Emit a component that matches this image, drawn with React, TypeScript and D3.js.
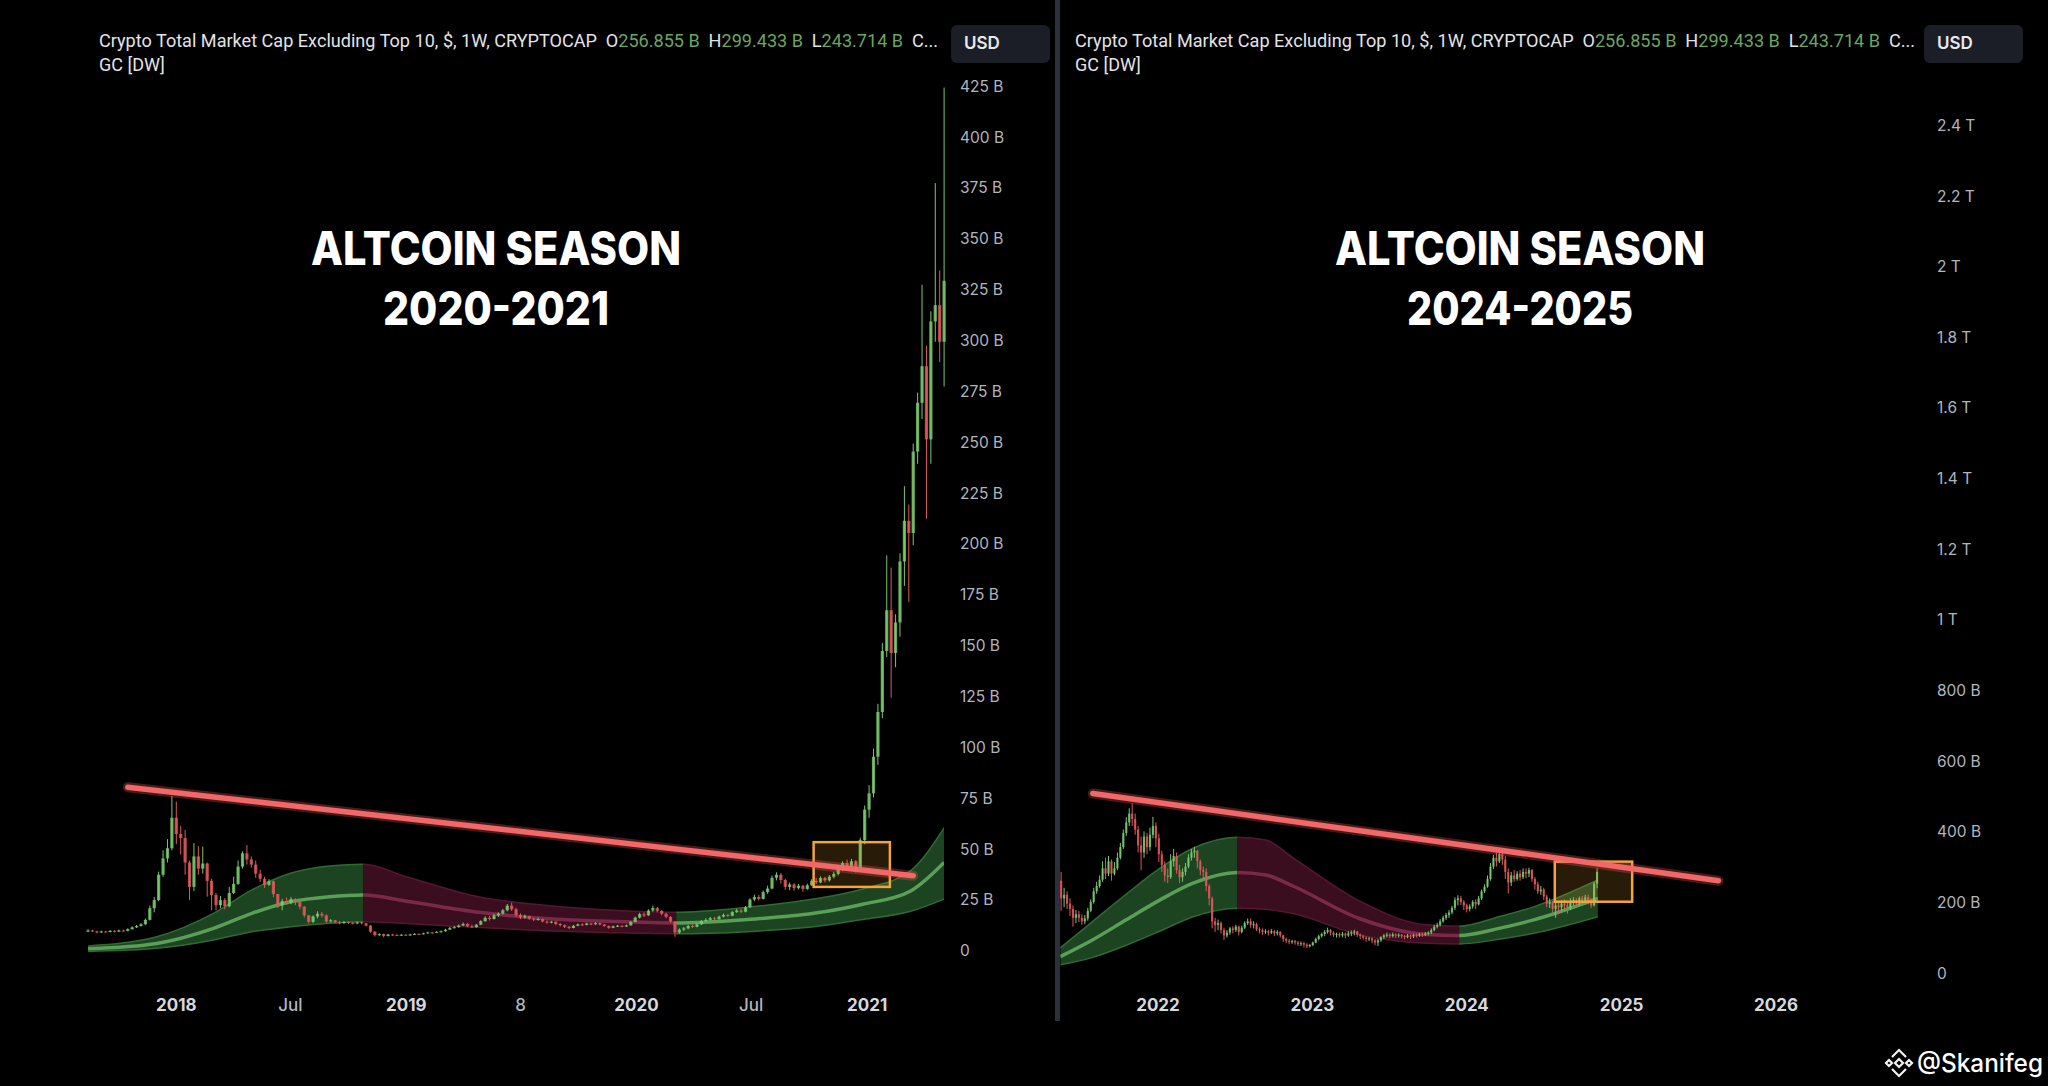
import { useEffect, useRef } from 'react';
import * as d3 from 'd3';

type HLC = [number, number, number]; // high, low, close (open = previous close)
type Trend = 'up' | 'down';

const W = 2048;
const H = 1086;

// ---- left panel: weekly candles, Aug 2017 .. May 2021 (billions) ----
const leftStart = '2017-08-14';
const leftFirstOpen = 10.0;
const leftCandles: HLC[] = [
  [11.2, 9.8, 10.6], [11.0, 9.9, 10.2], [10.4, 9.2, 9.6], [10.5, 9.4, 10.1], [10.4, 9.5, 9.8],
  [10.8, 9.6, 10.4], [10.7, 9.7, 10.0], [11.0, 9.9, 10.6], [10.9, 10.0, 10.3], [11.6, 10.2, 11.2],
  [12.6, 11.0, 12.1], [13.3, 11.8, 12.8], [14.2, 12.5, 13.6], [16.5, 13.4, 15.8], [22.8, 15.5, 21.5],
  [27.0, 19.5, 25.5], [39.5, 25.0, 38.0], [50.0, 37.0, 46.0], [55.5, 44.0, 51.0], [76.7, 50.0, 66.0],
  [74.0, 53.0, 58.0], [62.0, 48.0, 56.0], [60.0, 38.0, 44.0], [45.0, 25.5, 32.0], [53.5, 30.0, 47.0],
  [52.0, 38.0, 41.0], [51.8, 38.5, 43.5], [44.0, 27.2, 35.0], [36.0, 20.6, 28.0], [29.0, 20.5, 23.0],
  [27.5, 21.5, 25.5], [26.5, 21.0, 22.5], [32.0, 22.0, 29.0], [37.0, 28.5, 33.5], [45.0, 33.0, 42.0],
  [49.5, 41.0, 48.5], [52.6, 43.0, 45.5], [47.0, 41.5, 43.0], [45.0, 36.5, 38.5], [40.5, 34.5, 36.0],
  [37.0, 31.5, 33.0], [35.8, 32.5, 34.8], [35.0, 27.0, 28.5], [28.5, 21.5, 23.0], [26.0, 20.5, 25.0],
  [26.8, 23.2, 24.2], [27.0, 23.5, 26.0], [26.5, 23.0, 24.5], [25.0, 21.0, 22.3], [22.5, 17.0, 18.0],
  [18.2, 14.0, 14.8], [18.0, 14.2, 17.5], [20.0, 16.5, 18.8], [19.6, 17.0, 18.0], [18.5, 14.2, 15.0],
  [16.2, 14.5, 15.6], [15.8, 14.0, 14.6], [15.2, 13.6, 14.2], [15.2, 13.9, 14.8], [15.0, 13.8, 14.4],
  [14.8, 13.5, 14.0], [15.0, 13.7, 14.6], [14.9, 13.6, 14.1], [14.3, 12.6, 13.0], [13.2, 9.4, 10.0],
  [10.2, 7.6, 8.3], [9.2, 7.8, 8.8], [9.0, 7.3, 7.9], [9.0, 7.6, 8.6], [8.9, 8.0, 8.4],
  [8.7, 7.8, 8.1], [8.8, 7.9, 8.5], [8.7, 8.0, 8.3], [9.0, 8.1, 8.6], [9.2, 8.4, 8.9],
  [9.1, 8.4, 8.7], [9.5, 8.6, 9.2], [10.0, 9.0, 9.6], [9.9, 9.1, 9.4], [10.3, 9.3, 9.9],
  [10.6, 9.6, 10.2], [11.4, 10.0, 11.0], [12.4, 10.8, 11.8], [12.8, 11.5, 12.2], [13.5, 12.0, 13.0],
  [14.5, 12.8, 13.8], [14.2, 12.2, 12.6], [13.4, 11.8, 12.2], [13.8, 12.0, 13.4], [15.6, 13.2, 15.2],
  [17.5, 14.8, 16.8], [17.8, 15.5, 16.2], [18.8, 16.0, 18.0], [19.5, 17.2, 18.9], [21.2, 18.4, 20.5],
  [23.6, 20.0, 22.8], [24.2, 20.2, 21.0], [21.8, 17.4, 18.2], [19.0, 16.2, 17.0], [18.4, 16.4, 17.6],
  [17.8, 15.8, 16.4], [16.8, 15.2, 15.9], [16.9, 15.4, 16.2], [16.4, 14.6, 15.0], [15.4, 13.9, 14.6],
  [15.3, 14.1, 14.9], [15.0, 13.2, 13.8], [14.2, 12.6, 13.2], [13.5, 11.8, 12.4], [12.8, 11.2, 11.8],
  [13.3, 11.6, 12.9], [14.0, 12.6, 13.6], [14.1, 12.9, 13.3], [14.4, 13.1, 14.0], [14.3, 13.2, 13.6],
  [14.6, 13.4, 14.2], [14.4, 13.1, 13.5], [13.8, 12.4, 12.8], [13.0, 11.4, 11.9], [13.0, 11.7, 12.6],
  [13.3, 12.3, 12.9], [13.2, 12.1, 12.5], [13.5, 12.3, 13.1], [15.2, 12.9, 14.8], [17.4, 14.6, 16.9],
  [19.3, 16.5, 18.6], [19.5, 17.2, 18.0], [21.0, 17.8, 20.4], [22.8, 19.8, 21.6], [22.1, 19.5, 20.2],
  [20.6, 18.1, 18.8], [19.2, 16.6, 17.3], [17.6, 14.4, 15.0], [15.2, 7.5, 9.6], [11.6, 9.0, 11.0],
  [12.3, 10.4, 11.6], [13.3, 11.2, 12.8], [13.5, 11.8, 12.4], [14.2, 12.1, 13.6], [15.7, 13.3, 15.2],
  [16.6, 14.9, 15.8], [17.2, 15.4, 16.6], [17.3, 15.6, 16.1], [17.9, 15.9, 17.4], [18.9, 17.0, 18.2],
  [18.8, 17.2, 17.8], [20.1, 17.6, 19.6], [21.2, 19.2, 20.4], [21.0, 19.1, 19.8], [22.6, 19.5, 22.0],
  [26.4, 21.7, 25.8], [28.2, 25.0, 27.0], [28.0, 25.3, 26.1], [30.2, 25.8, 29.4], [32.6, 28.6, 31.2],
  [37.6, 30.8, 36.5], [39.2, 35.2, 38.0], [38.8, 33.6, 35.4], [36.0, 30.6, 32.0], [34.2, 30.4, 33.2],
  [33.8, 30.2, 31.4], [33.4, 30.8, 32.6], [33.0, 29.6, 31.0], [33.6, 30.6, 32.8], [35.8, 32.4, 35.0],
  [36.4, 33.4, 34.2], [37.2, 33.8, 36.4], [37.0, 34.2, 35.2], [37.8, 34.6, 37.0], [39.4, 36.2, 38.4],
  [41.8, 37.6, 40.6], [44.6, 39.8, 43.8], [45.4, 41.0, 42.2], [45.8, 40.6, 44.6], [45.2, 39.0, 41.2],
  [56.2, 40.6, 55.0], [72.0, 53.0, 70.0], [82.0, 66.0, 78.0], [100.0, 76.0, 96.0], [122.0, 92.0, 118.0],
  [152.0, 115.0, 148.0], [195.0, 145.0, 168.0], [189.0, 125.0, 147.0], [166.0, 140.0, 162.0], [196.0, 155.0, 192.0],
  [229.0, 180.0, 212.0], [220.0, 172.0, 206.0], [250.0, 200.0, 246.0], [275.0, 240.0, 270.0], [328.0, 262.0, 288.0],
  [298.0, 213.0, 252.0], [315.0, 240.0, 310.0], [378.0, 300.0, 318.0], [335.0, 290.0, 300.0], [425.0, 278.0, 330.0],
];

// ---- right panel: weekly candles, May 2021 .. Nov 2024 (billions) ----
const rightStart = '2021-05-17';
const rightFirstOpen = 265;
const rightCandles: HLC[] = [
  [290, 180, 215], [245, 190, 225], [235, 185, 200], [215, 165, 185], [195, 135, 160],
  [182, 145, 170], [180, 148, 160], [170, 140, 150], [168, 142, 158], [188, 152, 180],
  [212, 176, 205], [245, 200, 235], [262, 228, 250], [280, 245, 268], [320, 262, 300],
  [330, 270, 285], [335, 278, 320], [325, 265, 285], [318, 280, 300], [345, 295, 330],
  [372, 325, 360], [410, 355, 400], [445, 392, 430], [470, 420, 455], [484, 420, 440],
  [455, 395, 410], [420, 345, 365], [390, 295, 345], [405, 330, 390], [400, 340, 360],
  [415, 350, 395], [446, 385, 420], [430, 360, 385], [398, 318, 340], [350, 290, 310],
  [320, 262, 280], [300, 258, 275], [340, 270, 320], [355, 305, 335], [345, 285, 295],
  [310, 258, 275], [300, 262, 290], [315, 280, 305], [340, 300, 330], [355, 322, 345],
  [361, 330, 350], [352, 300, 320], [325, 280, 295], [305, 265, 290], [300, 235, 250],
  [255, 195, 215], [220, 130, 150], [160, 120, 140], [155, 125, 145], [150, 115, 125],
  [132, 97, 110], [125, 104, 118], [134, 112, 130], [136, 116, 125], [140, 120, 135],
  [138, 110, 120], [138, 116, 132], [150, 128, 145], [158, 140, 150], [158, 132, 140],
  [150, 130, 142], [146, 122, 128], [133, 116, 125], [130, 112, 120], [128, 114, 122],
  [126, 110, 118], [128, 114, 122], [125, 108, 116], [125, 110, 120], [122, 104, 110],
  [112, 92, 100], [104, 88, 95], [100, 85, 92], [98, 86, 94], [97, 84, 90],
  [94, 80, 86], [93, 80, 88], [92, 76, 84], [88, 74, 80], [86, 76, 83],
  [93, 80, 90], [104, 88, 100], [112, 96, 108], [118, 104, 114], [125, 108, 120],
  [132, 115, 125], [128, 110, 118], [122, 106, 112], [118, 104, 114], [118, 104, 110],
  [120, 105, 115], [118, 102, 110], [122, 106, 116], [124, 108, 118], [126, 110, 121],
  [123, 106, 112], [116, 100, 108], [112, 98, 104], [108, 92, 100], [106, 94, 102],
  [104, 88, 96], [100, 82, 90], [100, 80, 96], [108, 92, 105], [114, 100, 110],
  [118, 104, 112], [116, 102, 108], [118, 104, 113], [116, 103, 110], [116, 104, 112],
  [114, 102, 108], [112, 99, 106], [114, 102, 110], [113, 100, 107], [115, 103, 111],
  [115, 104, 109], [117, 106, 113], [118, 106, 112], [120, 108, 116], [122, 110, 118],
  [130, 114, 125], [140, 122, 135], [146, 130, 140], [156, 136, 150], [166, 146, 160],
  [174, 154, 168], [182, 160, 175], [194, 170, 188], [218, 182, 210], [224, 195, 215],
  [222, 196, 205], [210, 182, 195], [200, 175, 185], [198, 178, 192], [210, 186, 205],
  [212, 185, 198], [222, 195, 215], [240, 210, 235], [255, 230, 248], [280, 245, 270],
  [315, 265, 305], [338, 298, 330], [345, 305, 320], [352, 315, 340], [348, 310, 325],
  [335, 270, 290], [300, 229, 260], [290, 250, 280], [295, 262, 270], [292, 265, 285],
  [295, 265, 275], [300, 270, 290], [300, 272, 285], [302, 275, 295], [298, 262, 270],
  [275, 240, 255], [262, 228, 235], [250, 225, 240], [245, 210, 220], [225, 190, 200],
  [215, 188, 205], [208, 175, 185], [210, 160, 195], [205, 170, 190], [210, 180, 200],
  [212, 185, 195], [202, 172, 188], [215, 182, 205], [218, 195, 210], [215, 192, 200],
  [220, 195, 215], [222, 200, 208], [225, 202, 218], [225, 198, 205], [215, 188, 195],
  [262, 192, 256.855], [299.433, 243.714, 290],
];

// ---- gaussian channel samples ----
const leftChannelDates = [
  '2017-08-14', '2017-12-01', '2018-03-01', '2018-05-01', '2018-07-01', '2018-09-01', '2018-10-25',
  '2019-01-01', '2019-04-27', '2019-08-08', '2019-11-25', '2020-03-04', '2020-06-25', '2020-10-08',
  '2020-12-25', '2021-03-11', '2021-05-03',
];
const leftUpper = [3, 7.5, 19, 30.5, 38.7, 42.3, 43.1, 37, 27, 23, 20.5, 19.5, 22, 26, 31, 40, 61];
const leftMid = [1.6, 4.2, 11.6, 19, 24.7, 27.2, 28, 25, 19.5, 16.5, 15, 14.3, 16, 19, 23.5, 30, 44];
const leftLower = [0.3, 1.8, 5.9, 10, 12.4, 14.1, 14.9, 14, 12, 10.5, 9.5, 9, 10, 12.4, 16, 20, 26];
const leftSegments: [string, string, Trend][] = [
  ['2017-08-14', '2018-10-25', 'up'],
  ['2018-10-25', '2020-03-04', 'down'],
  ['2020-03-04', '2021-05-03', 'up'],
];

const rightChannelDates = [
  '2021-05-15', '2021-07-31', '2021-10-19', '2022-01-05', '2022-03-25', '2022-07-08', '2022-09-13',
  '2022-11-16', '2023-04-22', '2023-09-27', '2023-12-14', '2024-03-17', '2024-06-07', '2024-11-06',
];
const rightUpper = [75, 150, 228, 300, 357, 388, 380, 330, 208, 140, 136, 163, 191, 267];
const rightMid = [50, 98, 155, 210, 258, 288, 281, 250, 158, 113, 110, 130, 154, 215];
const rightLower = [27, 48, 83, 122, 163, 187, 184, 172, 112, 88, 86, 99, 116, 163];
const rightSegments: [string, string, Trend][] = [
  ['2021-05-15', '2022-07-08', 'up'],
  ['2022-07-08', '2023-12-14', 'down'],
  ['2023-12-14', '2024-11-06', 'up'],
];

// ---- drawings ----
const leftTrendDates = ['2017-10-16', '2021-03-15'];
const leftTrendValues = [81, 37.5];
const leftBoxDates = ['2020-10-08', '2021-02-06'];
const leftBoxValues = [32, 54];

const rightTrendDates = ['2021-07-31', '2025-08-18'];
const rightTrendValues = [512, 265];
const rightBoxDates = ['2024-07-27', '2025-01-26'];
const rightBoxValues = [205.5, 319];

// ---- axes ----
const leftYTicks = [0, 25, 50, 75, 100, 125, 150, 175, 200, 225, 250, 275, 300, 325, 350, 375, 400, 425];
const rightYTicks = [0, 200, 400, 600, 800, 1000, 1200, 1400, 1600, 1800, 2000, 2200, 2400];
const leftXTicks: [string, string, boolean][] = [
  ['2018-01-01', '2018', true], ['2018-07-01', 'Jul', false], ['2019-01-01', '2019', true],
  ['2019-07-01', '8', false], ['2020-01-01', '2020', true], ['2020-07-01', 'Jul', false],
  ['2021-01-01', '2021', true],
];
const rightXTicks: [string, string, boolean][] = [
  ['2022-01-01', '2022', true], ['2023-01-01', '2023', true], ['2024-01-01', '2024', true],
  ['2025-01-01', '2025', true], ['2026-01-01', '2026', true],
];

const headerName = 'Crypto Total Market Cap Excluding Top 10, $, 1W, CRYPTOCAP';
const headerOHLC: [string, string][] = [['O', '256.855 B'], ['H', '299.433 B'], ['L', '243.714 B']];
const headerStudy = 'GC [DW]';
const leftTitle = ['ALTCOIN SEASON', '2020-2021'];
const rightTitle = ['ALTCOIN SEASON', '2024-2025'];
const watermark = '@Skanifeg';

const parse = d3.timeParse('%Y-%m-%d');
const UP = '#78c96d';
const DOWN = '#e0585c';
const SANS = 'Inter, "Noto Sans", sans-serif';

interface PanelOpts {
  id: string;
  x: d3.ScaleTime<number, number>;
  y: d3.ScaleLinear<number, number>;
  start: string;
  firstOpen: number;
  candles: HLC[];
  bodyW: number;
  chDates: string[];
  upper: number[];
  mid: number[];
  lower: number[];
  segments: [string, string, Trend][];
  trendDates: string[];
  trendValues: number[];
  boxDates: string[];
  boxValues: number[];
  yTicks: number[];
  yFmt: (v: number) => string;
  yLabelX: number;
  xTicks: [string, string, boolean][];
  headerX: number;
  headerLen: number;
  usdX: number;
  title: string[];
  titleX: number;
}

function drawPanel(svg: d3.Selection<SVGSVGElement, unknown, null, undefined>, p: PanelOpts) {
  const { x, y } = p;
  const g = svg.append('g');

  // Gaussian channel, coloured by trend segment
  const pts = p.chDates.map((d, i) => ({ d: parse(d)!, u: p.upper[i], m: p.mid[i], l: p.lower[i] }));
  const area = d3.area<typeof pts[0]>().x((d) => x(d.d)).y0((d) => y(d.l)).y1((d) => y(d.u)).curve(d3.curveMonotoneX);
  const line = (key: 'u' | 'm' | 'l') =>
    d3.line<typeof pts[0]>().x((d) => x(d.d)).y((d) => y(d[key])).curve(d3.curveMonotoneX)(pts) as string;

  p.segments.forEach(([s, e, trend], k) => {
    const cid = `${p.id}-seg${k}`;
    svg.append('clipPath').attr('id', cid)
      .append('rect')
      .attr('x', x(parse(s)!)).attr('y', 0)
      .attr('width', x(parse(e)!) - x(parse(s)!)).attr('height', H);
    const sg = g.append('g').attr('clip-path', `url(#${cid})`);
    const fill = trend === 'up' ? '#1c4420' : '#3a0e1f';
    const edge = trend === 'up' ? '#2f6a33' : '#55172f';
    const midC = trend === 'up' ? '#5a9e58' : '#7a2a48';
    sg.append('path').attr('d', area(pts) as string).attr('fill', fill);
    sg.append('path').attr('d', line('u')).attr('fill', 'none').attr('stroke', edge).attr('stroke-width', 1.5);
    sg.append('path').attr('d', line('l')).attr('fill', 'none').attr('stroke', edge).attr('stroke-width', 1.5);
    sg.append('path').attr('d', line('m')).attr('fill', 'none').attr('stroke', midC).attr('stroke-width', 3.5);
  });

  // candles
  const start = parse(p.start)!;
  let prev = p.firstOpen;
  const cg = g.append('g');
  p.candles.forEach(([h, l, c], i) => {
    const o = prev;
    prev = c;
    const cx = x(d3.timeDay.offset(start, i * 7));
    const col = c >= o ? UP : DOWN;
    cg.append('line')
      .attr('x1', cx).attr('x2', cx)
      .attr('y1', y(h)).attr('y2', y(l))
      .attr('stroke', col).attr('stroke-width', 1);
    const top = y(Math.max(o, c));
    const bot = y(Math.min(o, c));
    cg.append('rect')
      .attr('x', cx - p.bodyW / 2).attr('y', top)
      .attr('width', p.bodyW).attr('height', Math.max(1, bot - top))
      .attr('fill', col).attr('fill-opacity', 0.85);
  });

  // orange box
  const bx0 = x(parse(p.boxDates[0])!);
  const bx1 = x(parse(p.boxDates[1])!);
  g.append('rect')
    .attr('x', bx0).attr('y', y(p.boxValues[1]))
    .attr('width', bx1 - bx0).attr('height', y(p.boxValues[0]) - y(p.boxValues[1]))
    .attr('fill', 'rgba(240,160,50,0.17)')
    .attr('stroke', '#f2a53e').attr('stroke-width', 2.5);

  // trendline
  const tl = p.trendDates.map((d, i) => [x(parse(d)!), y(p.trendValues[i])] as [number, number]);
  const tPath = d3.line()(tl) as string;
  g.append('path').attr('d', tPath).attr('stroke', 'rgba(240,90,90,0.3)').attr('stroke-width', 10)
    .attr('stroke-linecap', 'round').attr('fill', 'none');
  g.append('path').attr('d', tPath).attr('stroke', '#f26868').attr('stroke-width', 5.5)
    .attr('stroke-linecap', 'round').attr('fill', 'none');

  // price axis labels
  g.append('g').selectAll('text').data(p.yTicks).join('text')
    .attr('x', p.yLabelX).attr('y', (d) => y(d))
    .attr('dominant-baseline', 'middle')
    .attr('fill', '#b2b5be').attr('font-size', 15.5).attr('font-family', SANS)
    .text((d) => p.yFmt(d));

  // time axis labels
  g.append('g').selectAll('text').data(p.xTicks).join('text')
    .attr('x', (d) => x(parse(d[0])!)).attr('y', 1006)
    .attr('dominant-baseline', 'middle').attr('text-anchor', 'middle')
    .attr('fill', (d) => (d[2] ? '#d6d8de' : '#b2b5be'))
    .attr('font-weight', (d) => (d[2] ? 700 : 500))
    .attr('font-size', 17).attr('font-family', SANS)
    .text((d) => d[1]);

  // legend header
  const ht = g.append('text')
    .attr('x', p.headerX).attr('y', 47)
    .attr('font-size', 18.5).attr('font-family', 'Roboto, sans-serif')
    .attr('fill', '#e2e3e7')
    .attr('textLength', p.headerLen).attr('lengthAdjust', 'spacingAndGlyphs');
  ht.append('tspan').text(headerName);
  headerOHLC.forEach(([k, v]) => {
    ht.append('tspan').attr('dx', 9).text(k);
    ht.append('tspan').attr('fill', '#6aa65e').text(v);
  });
  ht.append('tspan').attr('dx', 9).text('C...');
  g.append('text')
    .attr('x', p.headerX).attr('y', 71)
    .attr('font-size', 18).attr('font-family', 'Roboto, sans-serif')
    .attr('fill', '#e2e3e7').text(headerStudy);

  // USD button
  g.append('rect').attr('x', p.usdX).attr('y', 25).attr('width', 99).attr('height', 38)
    .attr('rx', 6).attr('fill', '#1b1e27');
  g.append('text').attr('x', p.usdX + 13).attr('y', 44).attr('dominant-baseline', 'middle')
    .attr('font-size', 17).attr('font-weight', 600).attr('font-family', SANS)
    .attr('fill', '#e8e9ec').text('USD');

  // big title
  const widths = [370, 226];
  p.title.forEach((t, i) => {
    g.append('text')
      .attr('x', p.titleX).attr('y', 265 + i * 60)
      .attr('text-anchor', 'middle')
      .attr('font-size', 46).attr('font-weight', 800).attr('font-family', SANS)
      .attr('fill', '#ffffff')
      .attr('textLength', widths[i]).attr('lengthAdjust', 'spacingAndGlyphs')
      .text(t);
  });
}

export default function App() {
  const ref = useRef<SVGSVGElement>(null);

  useEffect(() => {
    document.body.style.margin = '0';
    document.body.style.background = '#000';
    if (!ref.current) return;
    const svg = d3.select(ref.current);
    svg.selectAll('*').remove();

    svg.append('rect').attr('width', W).attr('height', H).attr('fill', '#000');

    const xL = d3.scaleTime().domain([new Date(2018, 0, 1), new Date(2021, 0, 1)]).range([176.3, 867.2]);
    const yL = d3.scaleLinear().domain([0, 425]).range([952, 87.5]);
    const xR = d3.scaleTime().domain([new Date(2022, 0, 1), new Date(2026, 0, 1)]).range([1158, 1776]);
    const yR = d3.scaleLinear().domain([0, 2400]).range([974.3, 126.7]);

    drawPanel(svg, {
      id: 'left', x: xL, y: yL, start: leftStart, firstOpen: leftFirstOpen, candles: leftCandles, bodyW: 3.2,
      chDates: leftChannelDates, upper: leftUpper, mid: leftMid, lower: leftLower, segments: leftSegments,
      trendDates: leftTrendDates, trendValues: leftTrendValues, boxDates: leftBoxDates, boxValues: leftBoxValues,
      yTicks: leftYTicks, yFmt: (v) => (v === 0 ? '0' : `${v} B`), yLabelX: 960, xTicks: leftXTicks,
      headerX: 99, headerLen: 839, usdX: 951, title: leftTitle, titleX: 496,
    });
    drawPanel(svg, {
      id: 'right', x: xR, y: yR, start: rightStart, firstOpen: rightFirstOpen, candles: rightCandles, bodyW: 2.2,
      chDates: rightChannelDates, upper: rightUpper, mid: rightMid, lower: rightLower, segments: rightSegments,
      trendDates: rightTrendDates, trendValues: rightTrendValues, boxDates: rightBoxDates, boxValues: rightBoxValues,
      yTicks: rightYTicks,
      yFmt: (v) => (v === 0 ? '0' : v >= 1000 ? `${v / 1000} T` : `${v} B`),
      yLabelX: 1937, xTicks: rightXTicks,
      headerX: 1075, headerLen: 840, usdX: 1924, title: rightTitle, titleX: 1520,
    });

    // panel divider
    svg.append('rect').attr('x', 1055).attr('y', 0).attr('width', 5).attr('height', 1021).attr('fill', '#2c303a');

    // watermark with logo
    const lg = svg.append('g').attr('transform', 'translate(1899,1063)')
      .attr('fill', 'none').attr('stroke', '#f2f2f2').attr('stroke-width', 2.2);
    const dia = (cx: number, cy: number, r: number) => `M${cx},${cy - r}L${cx + r},${cy}L${cx},${cy + r}L${cx - r},${cy}Z`;
    lg.append('path').attr('d', dia(0, 0, 4));
    lg.append('path').attr('d', dia(-10, 0, 3));
    lg.append('path').attr('d', dia(10, 0, 3));
    lg.append('path').attr('d', 'M-7,-6L0,-13L7,-6');
    lg.append('path').attr('d', 'M-7,6L0,13L7,6');
    svg.append('text').attr('x', 1917).attr('y', 1072)
      .attr('font-size', 25).attr('font-weight', 500).attr('font-family', SANS)
      .attr('fill', '#ffffff')
      .attr('textLength', 126).attr('lengthAdjust', 'spacingAndGlyphs')
      .text(watermark);
  }, []);

  return <svg ref={ref} width={W} height={H} style={{ display: 'block' }} />;
}
